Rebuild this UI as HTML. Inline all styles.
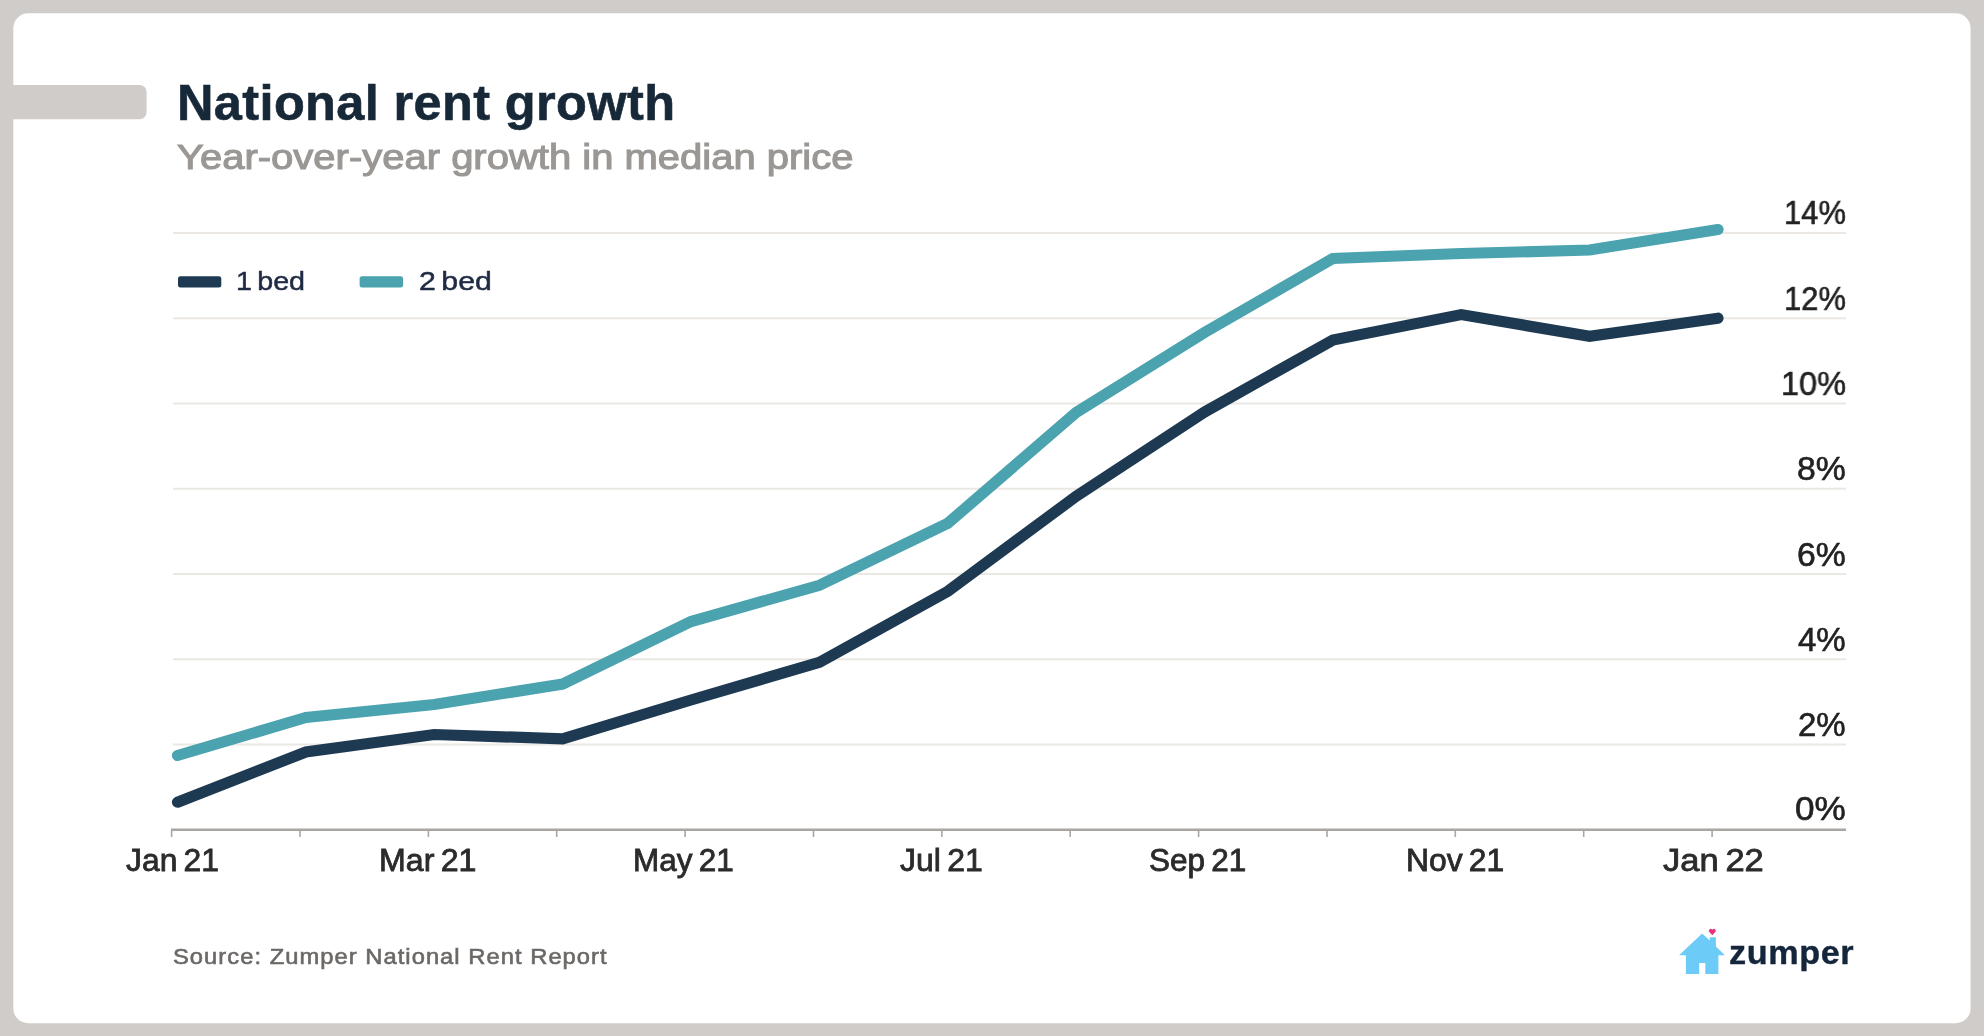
<!DOCTYPE html>
<html>
<head>
<meta charset="utf-8">
<style>
html,body{margin:0;padding:0;}
body{width:1984px;height:1036px;overflow:hidden;background:#d0ccc9;position:relative;font-family:"Liberation Sans",sans-serif;}
.t{position:absolute;white-space:nowrap;line-height:1;transform-origin:0 0;will-change:transform;}
svg{position:absolute;left:0;top:0;}
</style>
</head>
<body>
<svg id="chart" width="1984" height="1036" viewBox="0 0 1984 1036">
<rect x="13.3" y="13.3" width="1957.3" height="1009.9" rx="15" fill="#fff"/>
<path fill="#d0ccc9" d="M0,85 H139.6 A7,7 0 0 1 146.6,92 V112.2 A7,7 0 0 1 139.6,119.2 H0 Z"/>
<g stroke="#ebe8e4" stroke-width="2"><line x1="173" y1="744.6" x2="1846" y2="744.6"/><line x1="173" y1="659.3" x2="1846" y2="659.3"/><line x1="173" y1="574.0" x2="1846" y2="574.0"/><line x1="173" y1="488.7" x2="1846" y2="488.7"/><line x1="173" y1="403.5" x2="1846" y2="403.5"/><line x1="173" y1="318.2" x2="1846" y2="318.2"/><line x1="173" y1="232.9" x2="1846" y2="232.9"/></g>
<g stroke="#a9a6a3" stroke-width="1.6"><line x1="171.6" y1="829.85" x2="171.6" y2="837"/><line x1="300.0" y1="829.85" x2="300.0" y2="837"/><line x1="428.4" y1="829.85" x2="428.4" y2="837"/><line x1="556.7" y1="829.85" x2="556.7" y2="837"/><line x1="685.1" y1="829.85" x2="685.1" y2="837"/><line x1="813.5" y1="829.85" x2="813.5" y2="837"/><line x1="941.9" y1="829.85" x2="941.9" y2="837"/><line x1="1070.2" y1="829.85" x2="1070.2" y2="837"/><line x1="1198.6" y1="829.85" x2="1198.6" y2="837"/><line x1="1327.0" y1="829.85" x2="1327.0" y2="837"/><line x1="1455.3" y1="829.85" x2="1455.3" y2="837"/><line x1="1583.7" y1="829.85" x2="1583.7" y2="837"/><line x1="1712.1" y1="829.85" x2="1712.1" y2="837"/></g>
<line x1="171" y1="829.85" x2="1846" y2="829.85" stroke="#a9a6a3" stroke-width="2.5"/>
<polyline fill="none" stroke="#4aa3ae" stroke-width="11.2" stroke-linecap="round" stroke-linejoin="miter" points="177.5,755.5 305.9,717.5 434.2,704.5 562.6,684 691.0,621.5 819.4,585.3 947.8,523.3 1076.1,412.6 1204.5,332.5 1332.9,258.5 1461.2,253.5 1589.6,250 1718.0,229.5"/>
<polyline fill="none" stroke="#1e3a53" stroke-width="11.2" stroke-linecap="round" stroke-linejoin="miter" points="177.5,802.2 305.9,752 434.2,734.5 562.6,738.8 691.0,700 819.4,662.3 947.8,591.3 1076.1,496.3 1204.5,412 1332.9,340 1461.2,314.6 1589.6,336.3 1718.0,318.2"/>
<rect x="178" y="276.2" width="43.3" height="11.4" rx="2.5" fill="#1e3a53"/>
<rect x="359.6" y="276.2" width="43.5" height="11.4" rx="2.5" fill="#4aa3ae"/>
</svg>
<svg id="logo" width="1984" height="1036" viewBox="0 0 1984 1036">
<path fill="#6ccbf7" d="M1702.1,933.6 L1679.1,955.3 L1685.9,955.3 L1685.9,974 L1699.2,974 L1699.2,962.9 L1705.3,962.9 L1705.3,974 L1718.4,974 L1718.4,955.3 L1724.9,955.3 L1715.9,946.5 L1715.9,937.2 L1709.8,937.2 L1709.8,940.6 Z"/>
<path fill="#e8337a" d="M1712.3,935.2 L1709.1,931.8 A1.85,1.85 0 0 1 1712.3,929.7 A1.85,1.85 0 0 1 1715.5,931.8 Z"/>
</svg>
<div class="t" id="title" style="left:177.3px;top:77.5px;font-size:50.5px;color:#172838;font-weight:bold;letter-spacing:0.37px;-webkit-text-stroke:0.6px #172838;">National rent growth</div>
<div class="t" id="sub" style="left:177.0px;top:139.5px;font-size:34.6px;color:#9a9794;transform:scaleX(1.1565);-webkit-text-stroke:1.1px #9a9794;">Year-over-year growth in median price</div>
<div class="t" id="l1" style="left:236.0px;top:267.5px;font-size:26.5px;color:#1f2a44;transform:scaleX(1.0815);word-spacing:-2.5px;-webkit-text-stroke:0.5px #1f2a44;">1 bed</div>
<div class="t" id="l2" style="left:419.4px;top:268.0px;font-size:26.5px;color:#1f2a44;transform:scaleX(1.1413);word-spacing:-2.5px;-webkit-text-stroke:0.5px #1f2a44;">2 bed</div>
<div class="t" id="y14" style="left:1784.0px;top:196.4px;font-size:33px;color:#222;transform:scaleX(0.9377);-webkit-text-stroke:0.6px #222;">14%</div>
<div class="t" id="y12" style="left:1784.0px;top:281.9px;font-size:33px;color:#222;transform:scaleX(0.9377);-webkit-text-stroke:0.6px #222;">12%</div>
<div class="t" id="y10" style="left:1781.0px;top:367.4px;font-size:33px;color:#222;transform:scaleX(0.9848);-webkit-text-stroke:0.6px #222;">10%</div>
<div class="t" id="y8" style="left:1797.0px;top:452.4px;font-size:33px;color:#222;transform:scaleX(1.0222);-webkit-text-stroke:0.6px #222;">8%</div>
<div class="t" id="y6" style="left:1797.0px;top:537.9px;font-size:33px;color:#222;transform:scaleX(1.0223);-webkit-text-stroke:0.6px #222;">6%</div>
<div class="t" id="y4" style="left:1798.0px;top:623.4px;font-size:33px;color:#222;transform:scaleX(1.0005);-webkit-text-stroke:0.6px #222;">4%</div>
<div class="t" id="y2" style="left:1798.0px;top:707.9px;font-size:33px;color:#222;transform:scaleX(1.0003);-webkit-text-stroke:0.6px #222;">2%</div>
<div class="t" id="y0" style="left:1795.0px;top:792.4px;font-size:33px;color:#222;transform:scaleX(1.0645);-webkit-text-stroke:0.6px #222;">0%</div>
<div class="t" id="xjan21" style="left:126.0px;top:846.0px;font-size:30.8px;color:#2b2b2b;transform:scaleX(1.0341);word-spacing:-2.5px;-webkit-text-stroke:0.8px #2b2b2b;">Jan 21</div>
<div class="t" id="xmar" style="left:379.0px;top:846.0px;font-size:30.8px;color:#2b2b2b;transform:scaleX(1.0439);word-spacing:-2.5px;-webkit-text-stroke:0.8px #2b2b2b;">Mar 21</div>
<div class="t" id="xmay" style="left:633.0px;top:846.0px;font-size:30.8px;color:#2b2b2b;transform:scaleX(1.0219);word-spacing:-2.5px;-webkit-text-stroke:0.8px #2b2b2b;">May 21</div>
<div class="t" id="xjul" style="left:900.0px;top:846.0px;font-size:30.8px;color:#2b2b2b;transform:scaleX(1.0384);word-spacing:-2.5px;-webkit-text-stroke:0.8px #2b2b2b;">Jul 21</div>
<div class="t" id="xsep" style="left:1149.0px;top:846.0px;font-size:30.8px;color:#2b2b2b;transform:scaleX(1.0229);word-spacing:-2.5px;-webkit-text-stroke:0.8px #2b2b2b;">Sep 21</div>
<div class="t" id="xnov" style="left:1406.0px;top:846.0px;font-size:30.8px;color:#2b2b2b;transform:scaleX(1.0331);word-spacing:-2.5px;-webkit-text-stroke:0.8px #2b2b2b;">Nov 21</div>
<div class="t" id="xjan22" style="left:1663.0px;top:846.0px;font-size:30.8px;color:#2b2b2b;transform:scaleX(1.1204);word-spacing:-2.5px;-webkit-text-stroke:0.8px #2b2b2b;">Jan 22</div>
<div class="t" id="src" style="left:173.0px;top:945.1px;font-size:22.8px;color:#6b6866;transform:scaleX(1.0407);letter-spacing:1.0px;-webkit-text-stroke:0.6px #6b6866;">Source: Zumper National Rent Report</div>
<div class="t" id="zum" style="left:1728.7px;top:935.9px;font-size:33.5px;color:#14263b;font-weight:bold;transform:scaleX(1.0205);letter-spacing:0.6px;-webkit-text-stroke:0.4px #14263b;">zumper</div>
</body>
</html>
